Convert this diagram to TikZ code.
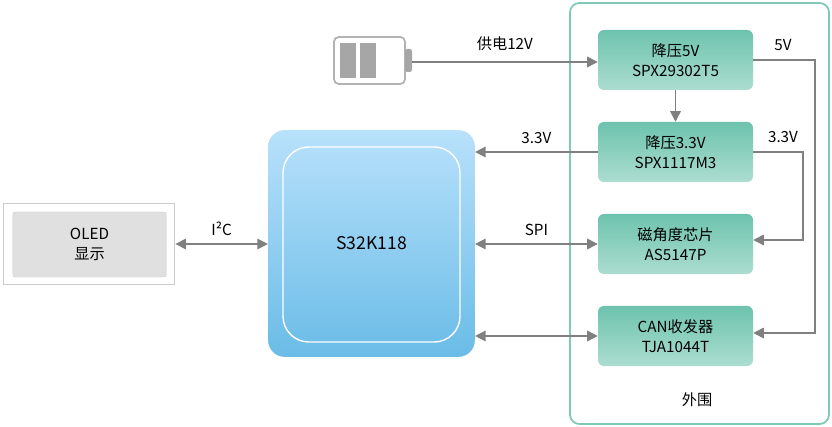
\documentclass[tikz,border=0pt]{standalone}
\usepackage{fontspec}
\setmainfont{Liberation Sans}
\newfontfamily\cjk{Noto Sans CJK SC}
\usetikzlibrary{arrows.meta,positioning}
\definecolor{tealline}{HTML}{7FC9B9}
\definecolor{tealtop}{HTML}{6DC3AE}
\definecolor{tealbot}{HTML}{ACDDD0}
\definecolor{bluetop}{HTML}{B8E1FB}
\definecolor{bluebot}{HTML}{6ABCE7}
\definecolor{wire}{HTML}{808080}
\tikzset{
  chip/.style={rounded corners=5pt, top color=tealtop, bottom color=tealbot, draw=none,
    minimum width=4.65cm, minimum height=1.8cm, align=center, font=\cjk\fontsize{13}{17}\selectfont},
  wire/.style={draw=wire, line width=1.2pt, -{Triangle[length=9pt,width=9pt]}},
  both/.style={wire, {Triangle[length=9pt,width=9pt]}-{Triangle[length=9pt,width=9pt]}},
  lbl/.style={font=\cjk\fontsize{13}{17}\selectfont}
}
\begin{document}
\begin{tikzpicture}[x=0.03cm, y=-0.03cm]
    \useasboundingbox (0,0) rectangle (832,427);
    % peripheral panel
    \draw[tealline, line width=1.5pt, rounded corners=8pt] (570,3) rectangle (829,424);
    \node[lbl] (periph) at (697,400) {外围};
    \node[chip] (buck5) at (675.5,60) {降压5V\\SPX29302T5};
    \node[chip] (buck33) at (675.5,152) {降压3.3V\\SPX1117M3};
    \node[chip] (angle) at (675.5,244) {磁角度芯片\\AS5147P};
    \node[chip] (can) at (675.5,336) {CAN收发器\\TJA1044T};
    % MCU
    \node[rounded corners=14pt, top color=bluetop, bottom color=bluebot, minimum width=6.2cm, minimum height=6.8cm] (mcu) at (371.5,243.5) {};
    \draw[white, line width=1.2pt, rounded corners=22pt] (283,147) rectangle (460,342);
    \node[lbl, font=\cjk\fontsize{15}{18}\selectfont] at (mcu) {S32K118};
    % OLED
    \node[draw=black!20, line width=1pt, minimum width=5.15cm, minimum height=2.45cm] (oledbox) at (89,244) {};
    \node[fill=black!12, draw=black!20, rounded corners=2pt, minimum width=4.6cm, minimum height=1.95cm, align=center, lbl] (oled) at (89.5,244.5) {OLED\\显示};
    % battery
    \draw[black!30, line width=1.5pt, rounded corners=4pt, fill=white] (334,37) rectangle (405,84);
    \fill[black!35, rounded corners=2pt] (405,49) rectangle (412,72);
    \fill[black!35] (340,43) rectangle (356,78);
    \fill[black!35] (360,43) rectangle (376,78);
    \coordinate (batt) at (412,62);
    % connectors
    \draw[wire] (batt) -- (buck5.west |- batt) node[midway, above=6pt, lbl] {供电12V};
    \draw[wire] (buck5) -- (buck33);
    \draw[wire] (buck33.west) -- (mcu.east |- buck33.west) node[midway, above=3pt, lbl] {3.3V};
    \draw[both] (mcu.east |- angle.west) -- (angle.west) node[midway, above=3pt, lbl] {SPI};
    \draw[both] (mcu.east |- can.west) -- (can.west);
    \draw[both] (oledbox.east) -- (mcu.west |- oledbox.east) node[midway, above=3pt, lbl] {I²C};
    \draw[wire] (buck5.east) -- (815,60) -- (815,333) -- (can.east |- 0,333);
    \draw[wire] (buck33.east) -- (803,152) -- (803,240) -- (angle.east |- 0,240);
    \node[lbl, anchor=south] at (783,55) {5V};
    \node[lbl, anchor=south] at (783,147) {3.3V};
\end{tikzpicture}
\end{document}
